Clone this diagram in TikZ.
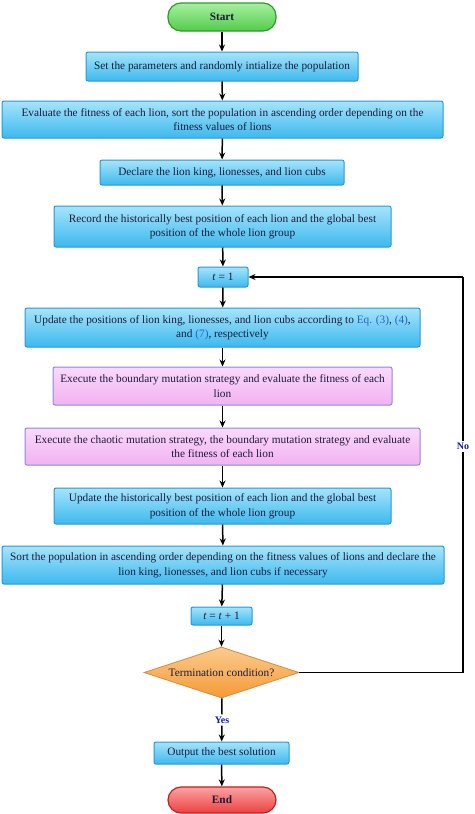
\documentclass[tikz,border=0pt]{standalone}
\usepackage{fontspec}
\setmainfont{Liberation Serif}
\usepackage{xcolor}
\usepackage{tikz}
\usetikzlibrary{shapes.geometric}
\usetikzlibrary{arrows.meta}

\definecolor{txtnavy}{HTML}{1B1B3A}
\definecolor{eqblue}{HTML}{2660D0}
\definecolor{lblblue}{HTML}{1A1AAA}
\definecolor{boxtop}{HTML}{A6E4FB}
\definecolor{boxbot}{HTML}{3CB9EE}
\definecolor{boxline}{HTML}{2A96D6}
\definecolor{pinktop}{HTML}{FBD9FB}
\definecolor{pinkbot}{HTML}{F1B2F1}
\definecolor{pinkline}{HTML}{8A8ADB}
\definecolor{grntop}{HTML}{A8EFA0}
\definecolor{grnbot}{HTML}{52CC4A}
\definecolor{grnline}{HTML}{2E9A2A}
\definecolor{redtop}{HTML}{FBA3A3}
\definecolor{redbot}{HTML}{EC4040}
\definecolor{redline}{HTML}{C02020}
\definecolor{orgtop}{HTML}{FBCB8E}
\definecolor{orgbot}{HTML}{F59A35}
\definecolor{orgline}{HTML}{D88A3A}

\begin{document}
\begin{tikzpicture}[x=1pt, y=-1pt,
    font=\fontsize{11.3}{14.5}\selectfont, text=txtnavy,
    stepbox/.style={rectangle, rounded corners=2pt, draw=boxline, line width=1pt,
        top color=boxtop, bottom color=boxbot, align=center, inner sep=1pt},
    pinkbox/.style={stepbox, draw=pinkline, top color=pinktop, bottom color=pinkbot},
    termbox/.style={rectangle, rounded corners=13pt, line width=1.2pt, inner sep=1pt,
        font=\fontsize{11.3}{13}\selectfont\bfseries},
    decide/.style={diamond, aspect=3, draw=orgline, line width=0.8pt, top color=orgtop,
        bottom color=orgbot, inner sep=0pt},
    arr/.style={-{Stealth[length=7pt, width=6pt]}, line width=1.5pt, black},
    lnk/.style={line width=1.5pt, black},
    lbl/.style={font=\fontsize{10}{11}\selectfont\bfseries, text=lblblue, inner sep=2pt}]

    \useasboundingbox (0,0) rectangle (474,814);

    % nodes
    \node[termbox, draw=grnline, top color=grntop, bottom color=grnbot,
        minimum width=108, minimum height=28] (start) at (222,17) {Start};
    \node[stepbox, minimum width=272, minimum height=29] (init) at (222,66.5)
        {Set the parameters and randomly intialize the population};
    \node[stepbox, minimum width=441, minimum height=37] (eval) at (222.5,119.5)
        {Evaluate the fitness of each lion, sort the population in ascending order depending on the\\fitness values of lions};
    \node[stepbox, minimum width=244, minimum height=25] (declare) at (222,172.5)
        {Declare the lion king, lionesses, and lion cubs};
    \node[stepbox, minimum width=337, minimum height=41] (record) at (222.5,226.5)
        {Record the historically best position of each lion and the global best\\position of the whole lion group};
    \node[stepbox, minimum width=50, minimum height=20] (tone) at (223,277) {\textit{t} = 1};
    \node[stepbox, minimum width=395, minimum height=39] (update) at (222.5,327.5)
        {Update the positions of lion king, lionesses, and lion cubs according to \textcolor{eqblue}{Eq. (3)}, \textcolor{eqblue}{(4)},\\and \textcolor{eqblue}{(7)}, respectively};
    \node[pinkbox, minimum width=339, minimum height=38] (bound) at (222.5,386)
        {Execute the boundary mutation strategy and evaluate the fitness of each\\lion};
    \node[pinkbox, minimum width=395, minimum height=37] (chaos) at (222.5,446.5)
        {Execute the chaotic mutation strategy, the boundary mutation strategy and evaluate\\the fitness of each lion};
    \node[stepbox, minimum width=337, minimum height=36] (best) at (222.5,506)
        {Update the historically best position of each lion and the global best\\position of the whole lion group};
    \node[stepbox, minimum width=442, minimum height=38] (sort) at (223,565)
        {Sort the population in ascending order depending on the fitness values of lions and declare the\\lion king, lionesses, and lion cubs if necessary};
    \node[stepbox, minimum width=61, minimum height=18] (tinc) at (221.5,616) {\textit{t} = \textit{t} + 1};
    \node[decide, minimum width=155, minimum height=51] (term) at (221.5,672.5)
        {Termination condition?};
    \node[lbl] (yes) at (222,720) {Yes};
    \node[stepbox, minimum width=135, minimum height=22] (output) at (221.5,753)
        {Output the best solution};
    \node[termbox, draw=redline, top color=redtop, bottom color=redbot,
        minimum width=108, minimum height=26] (end) at (222,800) {End};
    \coordinate (loop) at (463,277);

    % arrows
    \draw[arr] (start) -- (init);
    \draw[arr] (init) -- (eval);
    \draw[arr] (eval) -- (declare);
    \draw[arr] (declare) -- (record);
    \draw[arr] (record) -- (tone);
    \draw[arr] (tone) -- (update);
    \draw[arr] (update) -- (bound);
    \draw[arr] (bound) -- (chaos);
    \draw[arr] (chaos) -- (best);
    \draw[arr] (best) -- (sort);
    \draw[arr] (sort) -- (tinc);
    \draw[arr] (tinc) -- (term);
    \draw[lnk] (term) -- (yes);
    \draw[arr] (yes) -- (output);
    \draw[arr] (output) -- (end);

    % loop back
    \draw[lnk] (term.east) -| (loop) node[lbl, fill=white, pos=0.786] {No};
    \draw[arr] (loop) -- (tone.east);
\end{tikzpicture}
\end{document}
